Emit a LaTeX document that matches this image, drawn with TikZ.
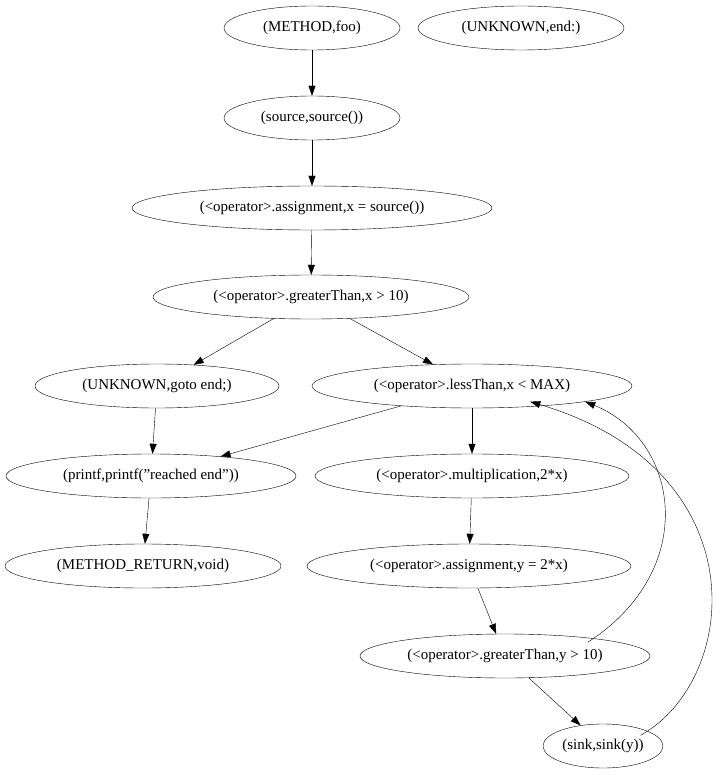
\documentclass[tikz,border=0pt]{standalone}
\usepackage{fontspec}
\setmainfont{Liberation Serif}
\usetikzlibrary{arrows.meta,shapes.geometric}
\begin{document}
\begin{tikzpicture}[x=1pt,y=-1pt,
  n/.style={draw,ellipse,minimum height=44pt,inner sep=1pt,font=\fontsize{15}{18}\selectfont},
  e/.style={draw,-{Triangle[length=10pt,width=7pt]}}]
\useasboundingbox (0,0) rectangle (724,775);
\node[n,minimum width=176pt] (foo) at (312,28) {(METHOD,foo)};
\node[n,minimum width=206pt] (unk) at (521,28) {(UNKNOWN,end:)};
\node[n,minimum width=176pt] (src) at (312,118) {(source,source())};
\node[n,minimum width=360pt] (asx) at (312,208) {(<operator>.assignment,x = source())};
\node[n,minimum width=316pt] (gtx) at (311,297) {(<operator>.greaterThan,x > 10)};
\node[n,minimum width=244pt] (gto) at (157,386) {(UNKNOWN,goto end;)};
\node[n,minimum width=320pt] (lt) at (472,386) {(<operator>.lessThan,x < MAX)};
\node[n,minimum width=290pt] (pf) at (151,476) {(printf,printf("reached end"))};
\node[n,minimum width=314pt] (mul) at (472,476) {(<operator>.multiplication,2*x)};
\node[n,minimum width=276pt] (ret) at (143,566) {(METHOD\_RETURN,void)};
\node[n,minimum width=324pt] (asy) at (469,566) {(<operator>.assignment,y = 2*x)};
\node[n,minimum width=290pt] (gty) at (505,656) {(<operator>.greaterThan,y > 10)};
\node[n,minimum width=120pt] (snk) at (603,746) {(sink,sink(y))};
\draw[e] (foo) -- (src);
\draw[e] (src) -- (asx);
\draw[e] (asx) -- (gtx);
\draw[e] (gtx) -- (gto);
\draw[e] (gtx) -- (lt);
\draw[e] (gto) -- (pf);
\draw[e] (lt) -- (pf);
\draw[e] (lt) -- (mul);
\draw[e] (pf) -- (ret);
\draw[e] (mul) -- (asy);
\draw[e] (asy) -- (gty);
\draw[e] (gty) -- (snk);
\draw[e] (gty.north east) ++(-20,2) coordinate (c1) (c1) .. controls (700,570) and (680,440) .. (lt.south east);
\draw[e] (snk.north east) ++(-5,5) coordinate (c2) (c2) .. controls (740,680) and (760,470) .. ([xshift=-55pt]lt.south east);
\end{tikzpicture}
\end{document}
